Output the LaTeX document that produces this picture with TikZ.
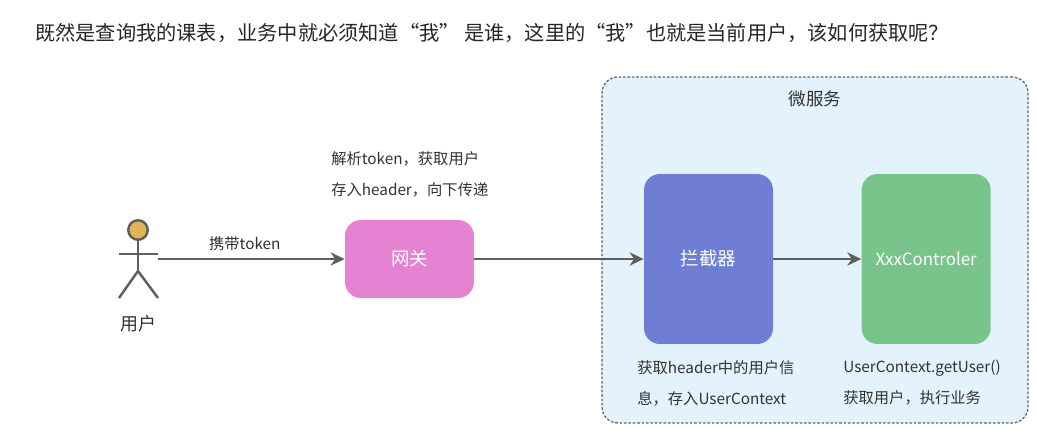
\documentclass[tikz,border=0pt]{standalone}
\usepackage{xcolor}
\usepackage{fontspec}
\setmainfont{Noto Sans CJK SC}
\usetikzlibrary{
  positioning,
  arrows.meta
}
\definecolor{gatewaybg}{RGB}{230,130,210}
\definecolor{filterbg}{RGB}{110,126,212}
\definecolor{ctrlbg}{RGB}{120,196,138}
\definecolor{servicebg}{RGB}{227,242,251}
\definecolor{serviceborder}{RGB}{90,100,110}
\definecolor{headbg}{RGB}{226,180,90}
\definecolor{arrowcolor}{RGB}{95,95,95}
\definecolor{textcolor}{RGB}{50,50,50}
\tikzset{
  procbox/.style={
    rounded corners=9pt, minimum width=2.58cm,
    font=\fontsize{10.5}{12}\selectfont, text=white, align=center
  },
  notenode/.style={
    font=\fontsize{8.7}{17.6}\selectfont, text=textcolor, align=left, inner sep=0pt
  },
  bigarrow/.style={
    -{Stealth[length=8pt,width=7.5pt]}, line width=1.6pt, draw=arrowcolor
  },
  actorline/.style={
    line width=1.4pt, draw=arrowcolor
  }
}
\begin{document}
\begin{tikzpicture}[x=0.02cm, y=-0.02cm]
    \useasboundingbox[fill=white] (0,0) rectangle (1037,433);

    % Title line
    \node[anchor=west, inner sep=0pt, text=black!85, font=\fontsize{11.5}{13}\selectfont] (title) at (35,33) {既然是查询我的课表，业务中就必须知道“我” 是谁，这里的“我”也就是当前用户，该如何获取呢？};

    % Service frame
    \node[draw=serviceborder, fill=servicebg, dash pattern=on 1.5pt off 1pt, rounded corners=9pt, line width=0.7pt, minimum width=8.52cm, minimum height=6.92cm] (service) at (815,250) {};
    \node[font=\fontsize{10}{12}\selectfont, text=textcolor, below=0.16cm of service.north] (servicelabel) {微服务};

    % Boxes
    \node[procbox, fill=gatewaybg, minimum height=1.56cm] (gateway) at (409.5,259) {网关};
    \node[procbox, fill=filterbg, minimum height=3.4cm] (filter) at (708.5,259) {拦截器};
    \node[procbox, fill=ctrlbg, minimum height=3.4cm, font=\fontsize{9.6}{12}\selectfont, right=1.76cm of filter] (ctrl) {XxxControler};

    % Notes
    \node[notenode, anchor=south west] (gatewaynote) at (331,197.5) {解析token，获取用户\\存入header，向下传递};
    \node[notenode, anchor=north west] (filternote) at (637,360) {获取header中的用户信\\息，存入UserContext};
    \node[notenode, anchor=north west] (ctrlnote) at (843,360) {UserContext.getUser()\\获取用户，执行业务};

    % Actor
    \node[circle, draw=arrowcolor, fill=headbg, line width=1.4pt, minimum size=0.39cm, inner sep=0pt] (head) at (138,230) {};
    \coordinate (hip) at (138,271);
    \coordinate (armleft) at (119,254);
    \coordinate (armright) at (158,254);
    \coordinate (footleft) at (119,298);
    \coordinate (footright) at (158,298);
    \coordinate (hand) at (158,259);
    \draw[actorline] (head.south) -- (hip);
    \draw[actorline] (armleft) -- (armright);
    \draw[actorline] (footleft) -- (hip) -- (footright);
    \node[font=\fontsize{10.2}{12}\selectfont, text=textcolor] (actorlabel) at (138,324) {用户};

    % Arrows
    \draw[bigarrow] (hand) -- node[pos=0.465, above=0.02cm, font=\fontsize{8.7}{10}\selectfont, text=textcolor] (tokenlabel) {携带token} (gateway.west);
    \draw[bigarrow] (gateway.east) -- (filter.west);
    \draw[bigarrow] (filter.east) -- (ctrl.west);

  \end{tikzpicture}
\end{document}
